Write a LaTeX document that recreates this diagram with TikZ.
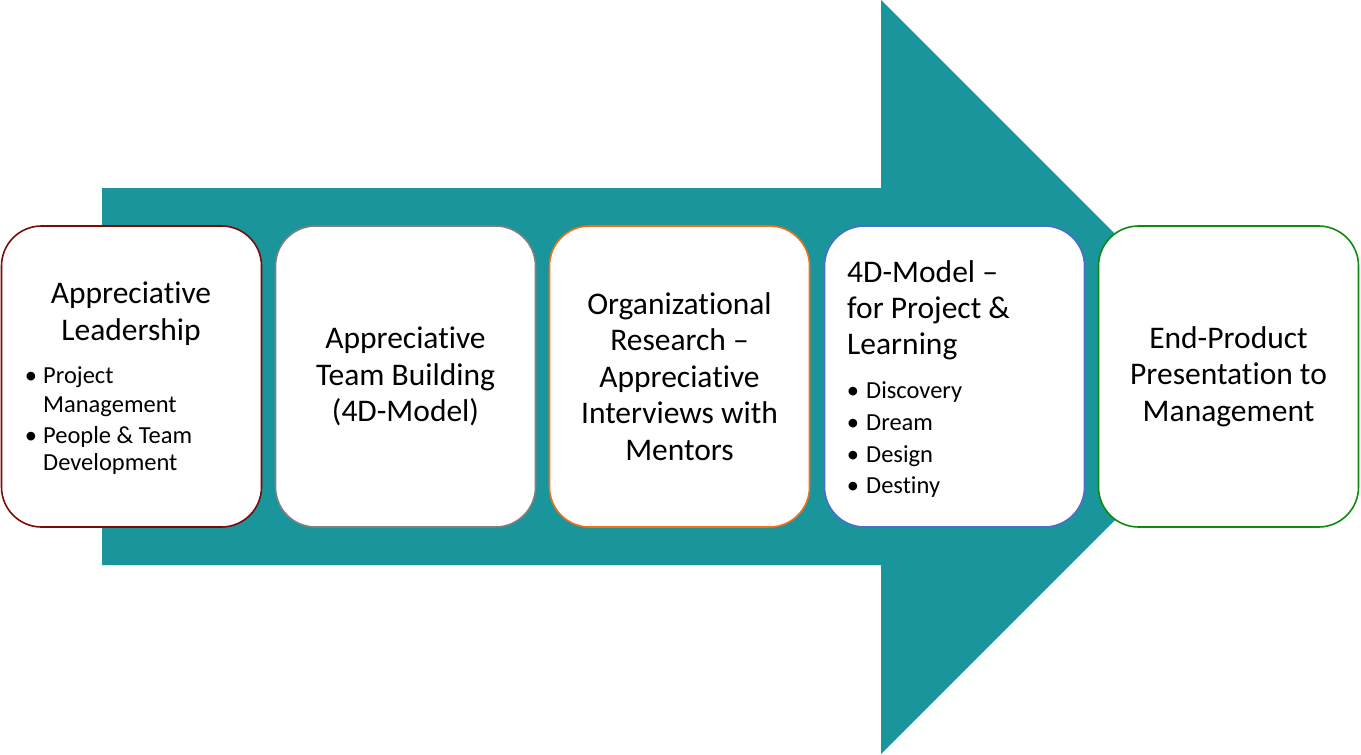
\documentclass[tikz,border=0pt]{standalone}
\usepackage{fontspec}
\setmainfont{Carlito}[Ligatures={NoCommon}]
\definecolor{arrowteal}{HTML}{1A959B}
\definecolor{boxred}{HTML}{7B0A0A}
\definecolor{boxgray}{HTML}{808080}
\definecolor{boxorange}{HTML}{F27018}
\definecolor{boxblue}{HTML}{4A6FC8}
\definecolor{boxgreen}{HTML}{0E8A0E}
\newcommand{\ttlfont}{\fontsize{31.5bp}{36.5bp}\selectfont}
\newcommand{\itmfont}{\fontsize{24.5bp}{28bp}\selectfont}
\begin{document}
\begin{tikzpicture}[x=1bp,y=-1bp,
  stagebox/.style={draw, line width=1.6bp, fill=white, rounded corners=40bp,
    minimum width=260bp, minimum height=301bp, inner sep=0pt, align=center, font=\ttlfont},
  ttl/.style={inner sep=0pt, font=\ttlfont},
  itm/.style={inner sep=0pt, font=\itmfont, anchor=base west},
  bul/.style={inner sep=0pt, font=\itmfont, anchor=base}]
\useasboundingbox (0,0) rectangle (1361,754);
% big arrow
\fill[arrowteal] (102,188) -- (881,188) -- (881,0) -- (1258,377) -- (881,754)
  -- (881,565) -- (102,565) -- cycle;
% boxes
\node[stagebox, draw=boxred] (b1) at (131.5,376.5) {};
\node[stagebox, draw=boxgray] (b2) at (405.5,376.5) {Appreciative\\Team Building\\(4D-Model)};
\node[stagebox, draw=boxorange] (b3) at (679.5,376.5) {Organizational\\Research --\\Appreciative\\Interviews with\\Mentors};
\node[stagebox, draw=boxblue] (b4) at (954.5,376.5) {};
\node[stagebox, draw=boxgreen] (b5) at (1228.5,376.5) {End-Product\\Presentation to\\Management};
% box 1 text
\node[ttl, anchor=base] (t1a) at (131,303) {Appreciative};
\node[ttl, anchor=base] (t1b) at (131,340) {Leadership};
\node[bul] (u1a) at (31,383) {•};
\node[itm] (i1a) at (43,383) {Project};
\node[itm] (i1b) at (43,412) {Management};
\node[bul] (u1b) at (31,443) {•};
\node[itm] (i1c) at (43,443) {People \& Team};
\node[itm] (i1d) at (43,470) {Development};
% box 4 text
\node[ttl, anchor=base west] (t4a) at (847,282) {4D-Model --};
\node[ttl, anchor=base west] (t4b) at (847,318) {for Project \&};
\node[ttl, anchor=base west] (t4c) at (847,354) {Learning};
\node[bul] (u4a) at (853,398) {•};
\node[itm] (i4a) at (866,398) {Discovery};
\node[bul] (u4b) at (853,430) {•};
\node[itm] (i4b) at (866,430) {Dream};
\node[bul] (u4c) at (853,462) {•};
\node[itm] (i4c) at (866,462) {Design};
\node[bul] (u4d) at (853,493) {•};
\node[itm] (i4d) at (866,493) {Destiny};
\end{tikzpicture}
\end{document}
